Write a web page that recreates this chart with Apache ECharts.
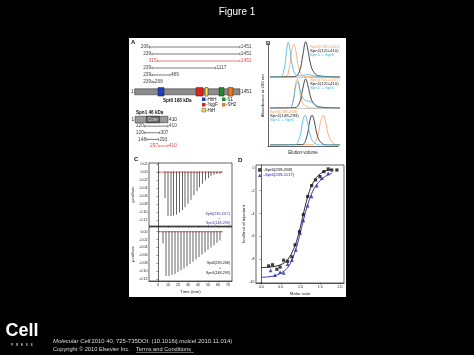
<!DOCTYPE html>
<html>
<head>
<meta charset="utf-8">
<script src="https://cdn.jsdelivr.net/npm/echarts@6/dist/echarts.min.js"></script>
<style>
  html, body { margin: 0; padding: 0; background: #000; }
  #chart { width: 474px; height: 355px; }
</style>
</head>
<body>
<div id="chart"></div>
<script>
// ---- panel A: Spt6 / Spn1 constructs (residue numbers) ----
const spt6Starts = [206, 239, 315, 239, 239, 239];
const spt6Ends = [1451, 1451, 1451, 1117, 489, 268];
const spt6RedRows = [2];
const spt6Length = 1451;
const spt6DomainNames = ['HhH', 'YqgF', 'HtH', 'S1', 'SH2'];
const spt6DomainStarts = [322, 846, 970, 1163, 1287];
const spt6DomainEnds = [405, 942, 1011, 1231, 1355];

const spn1Length = 410;
const spn1Core = [141, 305];
const spn1Starts = [120, 120, 148, 297];
const spn1Ends = [410, 307, 293, 410];
const spn1RedRows = [3];

// ---- panel B: gel filtration traces [elution, absorbance] ----
const bTopSpt6 = [[0,0],[22,0.01],[27,0.2],[31,0.7],[34,0.88],[37,0.7],[41,0.25],[46,0.05],[55,0.01],[100,0]];
const bTopSpn1 = [[0,0],[35,0.01],[42,0.15],[47,0.6],[51,0.95],[54,0.75],[58,0.35],[63,0.12],[70,0.03],[100,0]];
const bTopMix = [[0,0],[15,0.01],[20,0.2],[24,0.75],[26,0.93],[28,0.8],[32,0.3],[36,0.08],[42,0.03],[50,0.05],[55,0.07],[60,0.04],[70,0.01],[100,0]];
const bMidSpt6 = [[0,0],[28,0.01],[33,0.25],[37,0.78],[39,0.88],[42,0.6],[46,0.2],[52,0.04],[60,0],[100,0]];
const bMidSpn1 = [[0,0],[35,0.01],[42,0.15],[47,0.6],[51,0.88],[54,0.7],[58,0.33],[63,0.12],[70,0.03],[100,0]];
const bMidMix = [[0,0],[28,0.01],[33,0.2],[37,0.7],[40,0.8],[43,0.55],[47,0.3],[52,0.22],[57,0.2],[63,0.12],[70,0.04],[80,0],[100,0]];
const bBotSpt6 = [[0,0],[60,0.01],[67,0.2],[73,0.72],[76,0.85],[79,0.7],[84,0.25],[90,0.05],[96,0],[100,0]];
const bBotSpn1 = [[0,0],[45,0.01],[52,0.2],[57,0.7],[60,0.85],[63,0.7],[68,0.25],[74,0.05],[82,0],[100,0]];
const bBotMix = [[0,0],[35,0.01],[42,0.2],[47,0.7],[50,0.85],[53,0.7],[58,0.25],[64,0.05],[72,0],[100,0]];

// ---- panel C: ITC raw injections (min, µcal/sec) ----
const topTimes = [7, 10, 13, 15.5, 18.5, 21.5, 24.5, 27, 30, 33, 36, 39, 41.5, 44.5, 47.5, 50.5, 53, 56, 59, 62];
const topDepths = [-0.065, -0.11, -0.11, -0.109, -0.106, -0.101, -0.095, -0.088, -0.079, -0.069, -0.058, -0.048, -0.038, -0.029, -0.021, -0.015, -0.01, -0.007, -0.005, -0.004];
const botTimes = [5, 8, 11, 14, 17, 20, 23, 26, 29, 32, 35, 38, 41, 44, 47, 50, 53, 56, 59, 62];
const botDepths = [-0.03, -0.112, -0.112, -0.11, -0.107, -0.103, -0.098, -0.093, -0.088, -0.082, -0.076, -0.07, -0.064, -0.058, -0.052, -0.046, -0.04, -0.034, -0.028, -0.022];
const baselineStart = 1;
const baselineEnd = 64;

// ---- panel D: integrated heats (molar ratio, kcal/mol) ----
const dShortX = [0.19, 0.29, 0.40, 0.48, 0.57, 0.67, 0.78, 0.86, 0.97, 1.07, 1.18, 1.28, 1.38, 1.49, 1.59, 1.70, 1.79, 1.92];
const dShortY = [-8.6, -8.5, -8.9, -8.7, -8.1, -8.2, -7.8, -6.75, -5.6, -4.1, -2.5, -1.55, -1.05, -0.76, -0.32, -0.09, -0.18, -0.18];
const dLongX = [0.24, 0.35, 0.48, 0.57, 0.67, 0.78, 0.88, 0.99, 1.07, 1.18, 1.28, 1.41, 1.54, 1.70];
const dLongY = [-9.0, -9.4, -9.15, -9.2, -8.45, -8.1, -7.2, -5.7, -4.6, -3.3, -2.5, -1.55, -0.9, -0.47];
const fitX = [0, 0.2, 0.4, 0.6, 0.7, 0.8, 0.9, 1.0, 1.1, 1.2, 1.3, 1.4, 1.5, 1.6, 1.7, 1.8];
const fitShort = [-8.75, -8.7, -8.6, -8.3, -7.9, -7.3, -6.4, -5.1, -3.6, -2.3, -1.4, -0.85, -0.5, -0.3, -0.2, -0.13];
const fitLong = [-9.6, -9.55, -9.4, -9.0, -8.6, -7.9, -6.9, -5.6, -4.2, -3.0, -2.1, -1.5, -1.1, -0.8, -0.6, -0.45];

const FONT = 'Liberation Sans';
const domainColors = { HhH: '#1f3fbf', YqgF: '#e0231b', HtH: '#f2e640', S1: '#1f8a2a', SH2: '#e8782a' };
const bOrange = '#f2a060', bBlack = '#1a1a1a', bCyan = '#3cb6e0';
const dBlue = '#2525b0';

const chart = echarts.init(document.getElementById('chart'), null, { renderer: 'canvas' });

// plain graphic text; weight can be 'bold' or 'italic'
function txt(text, x, y, size, color, align, weight) {
  const a = align || 'left';
  const style = { text: text, fill: color, align: a, textAlign: a,
    verticalAlign: 'middle', textVerticalAlign: 'middle' };
  if (weight) style.font = weight + ' ' + size + 'px ' + FONT;
  else { style.fontSize = size; style.fontFamily = FONT; }
  return { type: 'text', x: x, y: y, style: style };
}

// construct line with end labels
function renderConstruct(params, api) {
  const s = api.value(0), e = api.value(1), row = api.value(2);
  const c = api.value(3) ? '#e04848' : '#444';
  const p0 = api.coord([s, row]), p1 = api.coord([e, row]);
  const st = { fontSize: 4.8, fontFamily: FONT, fill: c, verticalAlign: 'middle', textVerticalAlign: 'middle' };
  return { type: 'group', children: [
    { type: 'line', shape: { x1: p0[0], y1: p0[1], x2: p1[0], y2: p1[1] }, style: { stroke: c, lineWidth: 0.7 } },
    { type: 'line', shape: { x1: p0[0], y1: p0[1] - 1.3, x2: p0[0], y2: p0[1] + 1.3 }, style: { stroke: c, lineWidth: 0.6 } },
    { type: 'line', shape: { x1: p1[0], y1: p1[1] - 1.3, x2: p1[0], y2: p1[1] + 1.3 }, style: { stroke: c, lineWidth: 0.6 } },
    { type: 'text', style: Object.assign({ text: String(s), x: p0[0] - 0.8, y: p0[1], align: 'right', textAlign: 'right' }, st) },
    { type: 'text', style: Object.assign({ text: String(e), x: p1[0] + 0.8, y: p1[1], align: 'left', textAlign: 'left' }, st) }
  ] };
}

function renderBox(h, fillFn, withEnds, label) {
  return function (params, api) {
    const s = api.value(0), e = api.value(1), row = api.value(2);
    const p0 = api.coord([s, row]), p1 = api.coord([e, row]);
    const children = [{ type: 'rect', shape: { x: p0[0], y: p0[1] - h / 2, width: p1[0] - p0[0], height: h },
      style: { fill: fillFn(params.dataIndex), stroke: '#222', lineWidth: 0.5 } }];
    if (withEnds) {
      children.push({ type: 'text', style: { text: String(s), x: p0[0] - 1, y: p0[1], align: 'right', textAlign: 'right',
        verticalAlign: 'middle', textVerticalAlign: 'middle', fontSize: 4.8, fontFamily: FONT, fill: '#222' } });
      children.push({ type: 'text', style: { text: String(e), x: p1[0] + 1, y: p1[1], align: 'left', textAlign: 'left',
        verticalAlign: 'middle', textVerticalAlign: 'middle', fontSize: 4.8, fontFamily: FONT, fill: '#222' } });
    }
    if (label) {
      children.push({ type: 'text', style: { text: label, x: (p0[0] + p1[0]) / 2, y: p0[1], align: 'center', textAlign: 'center',
        verticalAlign: 'middle', textVerticalAlign: 'middle', fontSize: 4.5, fontFamily: FONT, fill: '#ddd' } });
    }
    return { type: 'group', children: children };
  };
}

const spt6Rows = spt6Starts.map((s, i) => [s, spt6Ends[i], i, spt6RedRows.includes(i) ? 1 : 0]);
const spn1Rows = spn1Starts.map((s, i) => [s, spn1Ends[i], i + 1, spn1RedRows.includes(i) ? 1 : 0]);
const spt6BarRow = 6.4;

const hidden = { show: false };
function hiddenAxis(idx, min, max, inverse) {
  return { type: 'value', gridIndex: idx, min: min, max: max, inverse: !!inverse,
    axisLine: hidden, axisTick: hidden, axisLabel: hidden, splitLine: hidden };
}
function lab(size) { return { fontSize: size, fontFamily: FONT, color: '#222', margin: 1.5 }; }

const cTicksTop = [0.02, 0, -0.02, -0.04, -0.06, -0.08, -0.10, -0.12];
const cTicksBot = [0, -0.02, -0.04, -0.06, -0.08, -0.10, -0.12];
const cTimeTicks = [0, 10, 20, 30, 40, 50, 60, 70];
const dXTicks = [0, 0.5, 1.0, 1.5, 2.0];
const dYTicks = [0, -2, -4, -6, -8, -10];

const frame = { show: true, borderColor: '#222', borderWidth: 0.7, backgroundColor: 'transparent', outerBoundsMode: 'none' };

const option = {
  backgroundColor: '#000',
  animation: false,
  grid: [
    { left: 134.6, top: 47, width: 105.4, height: 49, outerBoundsMode: 'none' },
    { left: 135, top: 119.5, width: 33, height: 26.5, outerBoundsMode: 'none' },
    { left: 270, top: 40, width: 70, height: 37, outerBoundsMode: 'none' },
    { left: 270, top: 75, width: 70, height: 33, outerBoundsMode: 'none' },
    { left: 270, top: 110, width: 70, height: 35, outerBoundsMode: 'none' },
    { left: 268, top: 45, width: 70, height: 101.5, outerBoundsMode: 'none' },
    Object.assign({ left: 149, top: 163, width: 83, height: 63 }, frame),
    Object.assign({ left: 149, top: 227, width: 83, height: 54 }, frame),
    Object.assign({ left: 256, top: 165, width: 88, height: 118 }, frame)
  ],
  xAxis: [
    hiddenAxis(0, 0, spt6Length),
    hiddenAxis(1, 0, spn1Length),
    Object.assign(hiddenAxis(2, 0, 100), { axisLine: { show: true, lineStyle: { color: '#999', width: 0.5 } } }),
    Object.assign(hiddenAxis(3, 0, 100), { axisLine: { show: true, lineStyle: { color: '#999', width: 0.5 } } }),
    hiddenAxis(4, 0, 100),
    Object.assign(hiddenAxis(5, 0, 100), {
      axisLine: { show: true, onZero: false, lineStyle: { color: '#222', width: 0.7 } },
      name: 'Elution volume', nameLocation: 'middle', nameGap: 4,
      nameTextStyle: { fontSize: 4.5, fontFamily: FONT, color: '#222' }
    }),
    { type: 'value', gridIndex: 6, min: -9, max: 74, splitLine: hidden,
      axisLine: { onZero: false, lineStyle: { color: '#222', width: 0.7 } },
      axisTick: { length: 1.5, customValues: cTimeTicks, lineStyle: { width: 0.5 } },
      axisLabel: { show: false } },
    { type: 'value', gridIndex: 7, min: -9, max: 74, splitLine: hidden,
      axisLine: { onZero: false, lineStyle: { color: '#222', width: 0.7 } },
      axisTick: { length: 1.5, customValues: cTimeTicks, lineStyle: { width: 0.5 } },
      axisLabel: Object.assign({ customValues: cTimeTicks }, lab(3.6)),
      name: 'Time (min)', nameLocation: 'middle', nameGap: 9,
      nameTextStyle: { fontSize: 4.3, fontFamily: FONT, color: '#222' } },
    { type: 'value', gridIndex: 8, min: -0.13, max: 2.1, splitLine: hidden,
      axisLine: { onZero: false, lineStyle: { color: '#222', width: 0.7 } },
      axisTick: { length: 1.5, customValues: dXTicks, lineStyle: { width: 0.5 } },
      axisLabel: Object.assign({ customValues: dXTicks, formatter: v => v.toFixed(1) }, lab(3.6)),
      name: 'Molar ratio', nameLocation: 'middle', nameGap: 9,
      nameTextStyle: { fontSize: 4.3, fontFamily: FONT, color: '#222' } }
  ],
  yAxis: [
    hiddenAxis(0, 0, 7, true),
    hiddenAxis(1, 0, 4, true),
    hiddenAxis(2, 0, 1),
    hiddenAxis(3, 0, 1),
    hiddenAxis(4, 0, 1),
    Object.assign(hiddenAxis(5, 0, 1), {
      axisLine: { show: true, lineStyle: { color: '#222', width: 0.7 } },
      name: 'Absorbance at 280 nm', nameLocation: 'middle', nameGap: 3,
      nameTextStyle: { fontSize: 4.3, fontFamily: FONT, color: '#222' }
    }),
    { type: 'value', gridIndex: 6, min: -0.135, max: 0.0227, splitLine: hidden,
      axisLine: { lineStyle: { color: '#222', width: 0.7 } },
      axisTick: { length: 1.5, customValues: cTicksTop, lineStyle: { width: 0.5 } },
      axisLabel: Object.assign({ customValues: cTicksTop, formatter: v => v.toFixed(2) }, lab(3.6)),
      name: 'µcal/sec', nameLocation: 'middle', nameGap: 14,
      nameTextStyle: { fontSize: 4.3, fontFamily: FONT, color: '#222' } },
    { type: 'value', gridIndex: 7, min: -0.125, max: 0.012, splitLine: hidden,
      axisLine: { lineStyle: { color: '#222', width: 0.7 } },
      axisTick: { length: 1.5, customValues: cTicksBot, lineStyle: { width: 0.5 } },
      axisLabel: Object.assign({ customValues: cTicksBot, formatter: v => v.toFixed(2) }, lab(3.6)),
      name: 'µcal/sec', nameLocation: 'middle', nameGap: 14,
      nameTextStyle: { fontSize: 4.3, fontFamily: FONT, color: '#222' } },
    { type: 'value', gridIndex: 8, min: -10.1, max: 0.26, splitLine: hidden,
      axisLine: { lineStyle: { color: '#222', width: 0.7 } },
      axisTick: { length: 1.5, customValues: dYTicks, lineStyle: { width: 0.5 } },
      axisLabel: Object.assign({ customValues: dYTicks }, lab(3.6)),
      name: 'kcal/mol of injectant', nameLocation: 'middle', nameGap: 8,
      nameTextStyle: { fontSize: 4.3, fontFamily: FONT, color: '#222' } }
  ],
  legend: {
    left: 258, top: 168, orient: 'vertical', itemWidth: 3.5, itemHeight: 3.5, itemGap: 1.2, padding: 0,
    textStyle: { fontSize: 4.3, fontFamily: FONT, padding: [0, 0, 0, -3] },
    data: [
      { name: '-Spt6(239-268)', textStyle: { color: '#111' } },
      { name: '-Spt6(239-1117)', textStyle: { color: dBlue } }
    ]
  },
  series: [
    // A
    { type: 'custom', xAxisIndex: 0, yAxisIndex: 0, renderItem: renderConstruct, data: spt6Rows },
    { type: 'custom', xAxisIndex: 0, yAxisIndex: 0, renderItem: renderBox(6, () => '#8c8c8c', true),
      data: [[1, spt6Length, spt6BarRow]] },
    { type: 'custom', xAxisIndex: 0, yAxisIndex: 0, z: 3,
      renderItem: renderBox(8.5, i => domainColors[spt6DomainNames[i]], false),
      data: spt6DomainStarts.map((s, i) => [s, spt6DomainEnds[i], spt6BarRow]) },
    { type: 'custom', xAxisIndex: 1, yAxisIndex: 1, renderItem: renderBox(6.5, () => '#9a9a9a', true),
      data: [[1, spn1Length, 0]] },
    { type: 'custom', xAxisIndex: 1, yAxisIndex: 1, z: 3, renderItem: renderBox(6.5, () => '#6a6a6a', false, 'Core'),
      data: [[spn1Core[0], spn1Core[1], 0]] },
    { type: 'custom', xAxisIndex: 1, yAxisIndex: 1, renderItem: renderConstruct, data: spn1Rows },
    // B
    ...[[2, bTopSpt6, bOrange], [2, bTopSpn1, bBlack], [2, bTopMix, bCyan],
        [3, bMidSpt6, bOrange], [3, bMidSpn1, bBlack], [3, bMidMix, bCyan],
        [4, bBotSpt6, bOrange], [4, bBotSpn1, bBlack], [4, bBotMix, bCyan]].map(d => ({
      type: 'line', xAxisIndex: d[0], yAxisIndex: d[0], data: d[1], smooth: 0.45, showSymbol: false,
      lineStyle: { color: d[2], width: 0.8 }, itemStyle: { color: d[2] }
    })),
    // C
    { type: 'bar', xAxisIndex: 6, yAxisIndex: 6, barWidth: 1, itemStyle: { color: '#666' },
      data: topTimes.map((t, i) => [t, topDepths[i]]) },
    { type: 'line', xAxisIndex: 6, yAxisIndex: 6, symbol: 'circle', symbolSize: 1.2,
      lineStyle: { color: '#e03030', width: 0.7 }, itemStyle: { color: '#333' },
      data: [[baselineStart, 0]].concat(topTimes.map(t => [t, 0]), [[baselineEnd, 0]]) },
    { type: 'bar', xAxisIndex: 7, yAxisIndex: 7, barWidth: 1, itemStyle: { color: '#666' },
      data: botTimes.map((t, i) => [t, botDepths[i]]) },
    { type: 'line', xAxisIndex: 7, yAxisIndex: 7, symbol: 'circle', symbolSize: 1.2,
      lineStyle: { color: '#e03030', width: 0.7 }, itemStyle: { color: '#333' },
      data: [[baselineStart, 0]].concat(botTimes.map(t => [t, 0]), [[baselineEnd, 0]]) },
    // D
    { type: 'line', xAxisIndex: 8, yAxisIndex: 8, smooth: 0.4, showSymbol: false,
      lineStyle: { color: '#111', width: 0.9 }, data: fitX.map((x, i) => [x, fitShort[i]]) },
    { type: 'line', xAxisIndex: 8, yAxisIndex: 8, smooth: 0.4, showSymbol: false,
      lineStyle: { color: dBlue, width: 0.9 }, data: fitX.map((x, i) => [x, fitLong[i]]) },
    { name: '-Spt6(239-268)', type: 'scatter', xAxisIndex: 8, yAxisIndex: 8, symbol: 'rect', symbolSize: 3.2,
      itemStyle: { color: '#111' }, data: dShortX.map((x, i) => [x, dShortY[i]]) },
    { name: '-Spt6(239-1117)', type: 'scatter', xAxisIndex: 8, yAxisIndex: 8, symbol: 'triangle', symbolSize: 3.8,
      itemStyle: { color: dBlue }, data: dLongX.map((x, i) => [x, dLongY[i]]) }
  ],
  graphic: [
    { type: 'rect', z: -10, shape: { x: 129, y: 38, width: 217, height: 259 }, style: { fill: '#fff' } },
    txt('Figure 1', 237, 12, 10, '#fff', 'center'),
    txt('A', 131, 42, 6, '#111', 'left', 'bold'),
    txt('B', 266, 43, 6, '#111', 'left', 'bold'),
    txt('C', 134, 159, 6, '#111', 'left', 'bold'),
    txt('D', 238, 160, 6, '#111', 'left', 'bold'),
    // A labels and domain key
    txt('Spt6 168 kDa', 163, 100.5, 4.6, '#111', 'left', 'bold'),
    txt('Spn1 46 kDa', 136, 112.5, 4.6, '#111', 'left', 'bold'),
    { type: 'rect', shape: { x: 202, y: 97.5, width: 3.5, height: 3.5 }, style: { fill: domainColors.HhH } },
    txt('-HhH', 206, 99.3, 4.5, '#111'),
    { type: 'rect', shape: { x: 202, y: 103, width: 3.5, height: 3.5 }, style: { fill: domainColors.YqgF } },
    txt('-YqgF', 206, 104.8, 4.5, '#111'),
    { type: 'rect', shape: { x: 202, y: 108.5, width: 3.5, height: 3.5 }, style: { fill: domainColors.HtH, stroke: '#222', lineWidth: 0.4 } },
    txt('-HtH', 206, 110.3, 4.5, '#111'),
    { type: 'rect', shape: { x: 222, y: 97.5, width: 3.5, height: 3.5 }, style: { fill: domainColors.S1 } },
    txt('-S1', 226, 99.3, 4.5, '#111'),
    { type: 'rect', shape: { x: 222, y: 103, width: 3.5, height: 3.5 }, style: { fill: domainColors.SH2 } },
    txt('-SH2', 226, 104.8, 4.5, '#111'),
    // B labels
    txt('Spt6(239-1451)', 310, 46.7, 4.3, bOrange),
    txt('Spn1(120-410)', 310, 50.7, 4.3, bBlack),
    txt('Spn1 + Spt6', 310, 54.5, 4.3, bCyan),
    txt('Spt6(315-1451)', 310, 80, 4.3, bOrange),
    txt('Spn1(120-410)', 310, 84, 4.3, bBlack),
    txt('Spn1 + Spt6', 310, 87.8, 4.3, bCyan),
    txt('Spt6(239-268)', 270, 111.7, 4.3, bOrange),
    txt('Spn1(148-293)', 270, 115.8, 4.3, bBlack),
    txt('Spn1 + Spt6', 270, 119.8, 4.3, bCyan),
    // C labels
    txt('Spt6(239-1117)', 230, 213.5, 3.6, '#3535a5', 'right'),
    txt('+', 219, 218, 3.6, '#3535a5', 'center'),
    txt('Spn1(148-293)', 230, 222.5, 3.6, '#3535a5', 'right'),
    txt('Spt6(239-268)', 230, 263, 3.6, '#111', 'right'),
    txt('+', 220, 268, 3.6, '#111', 'center'),
    txt('Spn1(148-293)', 230, 273, 3.6, '#111', 'right'),
    // footer
    txt('Cell', 22, 331, 18, '#fff', 'center', 'bold'),
    txt('P   R   E   S   S', 22, 345, 3.2, '#fff', 'center'),
    txt('Molecular Cell', 53, 341.5, 5.9, '#ddd', 'left', 'italic'),
    txt('2010 40, 725-735DOI: (10.1016/j.molcel.2010.11.014)', 91.5, 341.5, 5.9, '#ddd'),
    txt('Copyright © 2010 Elsevier Inc. ', 53, 349.5, 5.7, '#ddd'),
    txt('Terms and Conditions', 136, 349.5, 5.7, '#ddd'),
    { type: 'line', shape: { x1: 136, y1: 352.4, x2: 194, y2: 352.4 }, style: { stroke: '#ddd', lineWidth: 0.5 } }
  ]
};

chart.setOption(option);
</script>
</body>
</html>
